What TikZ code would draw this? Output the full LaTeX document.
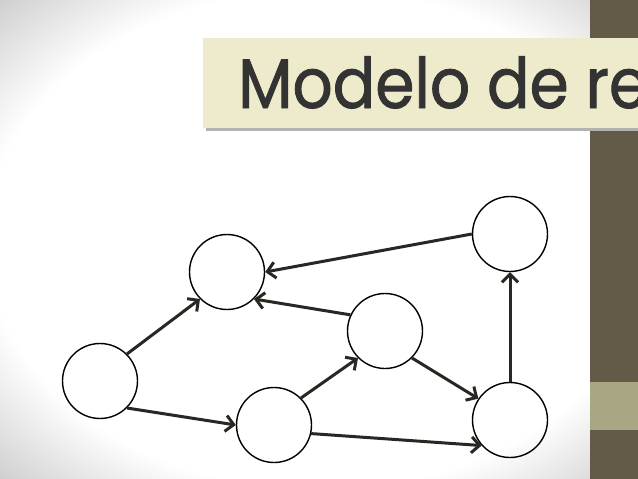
\documentclass[tikz,border=0pt]{standalone}
\usepackage{fontspec}
\newfontfamily\titlefont{Poppins}[FakeStretch=0.9,FakeBold=1.2]
\usetikzlibrary{arrows.meta}
\definecolor{barra}{HTML}{635A47}
\definecolor{banda}{HTML}{A9A683}
\definecolor{caja}{HTML}{EDEBCB}
\definecolor{trazo}{HTML}{2A2722}
\pgfdeclareradialshading{fondo}{\pgfpoint{0bp}{0bp}}{color(0bp)=(white); color(26bp)=(white); color(36bp)=(black!20)}
\begin{document}
\begin{tikzpicture}[x=1pt,y=1pt,
		nodo/.style={circle,draw=black,line width=1.4pt,minimum size=75pt,inner sep=0pt},
		flecha/.style={draw=trazo,line width=3pt,-{Straight Barb[length=8pt,width=16pt]}}]
		\useasboundingbox (0,0) rectangle (638,-479);
		\shade[shading=fondo] (0,0) rectangle (638,-479);
		% barra lateral
		\fill[barra] (590,0) rectangle (638,-479);
		\fill[banda] (590,-382) rectangle (638,-430);
		% titulo
		\fill[black!30] (206,-42) rectangle (638,-131);
		\fill[caja] (203,-38) rectangle (638,-128);
		\begin{scope}
			\clip (203,-38) rectangle (638,-128);
			\node[anchor=base west,inner sep=0pt,text=black!80,font=\titlefont\fontsize{70}{70}\selectfont] (titulo) at (238,-108) {Modelo de red};
		\end{scope}
		% nodos
		\foreach \n/\x/\y in {a/100/381, b/227/272, c/274/425, d/385/331, e/510/420, f/510/234}{
			\node[nodo] (\n) at (\x,-\y) {};
		}
		% aristas
		\draw[flecha] (a.45) -- (b.225);
		\draw[flecha] (a.-45) -- (c.180);
		\draw[flecha] (c.45) -- (d.225);
		\draw[flecha] (c.-13) -- (e.222);
		\draw[flecha] (d.155) -- (b.-45);
		\draw[flecha] (d.-45) -- (e.146);
		\draw[flecha] (e.90) -- (f.-90);
		\draw[flecha] (f.180) -- (b.0);
\end{tikzpicture}
\end{document}
